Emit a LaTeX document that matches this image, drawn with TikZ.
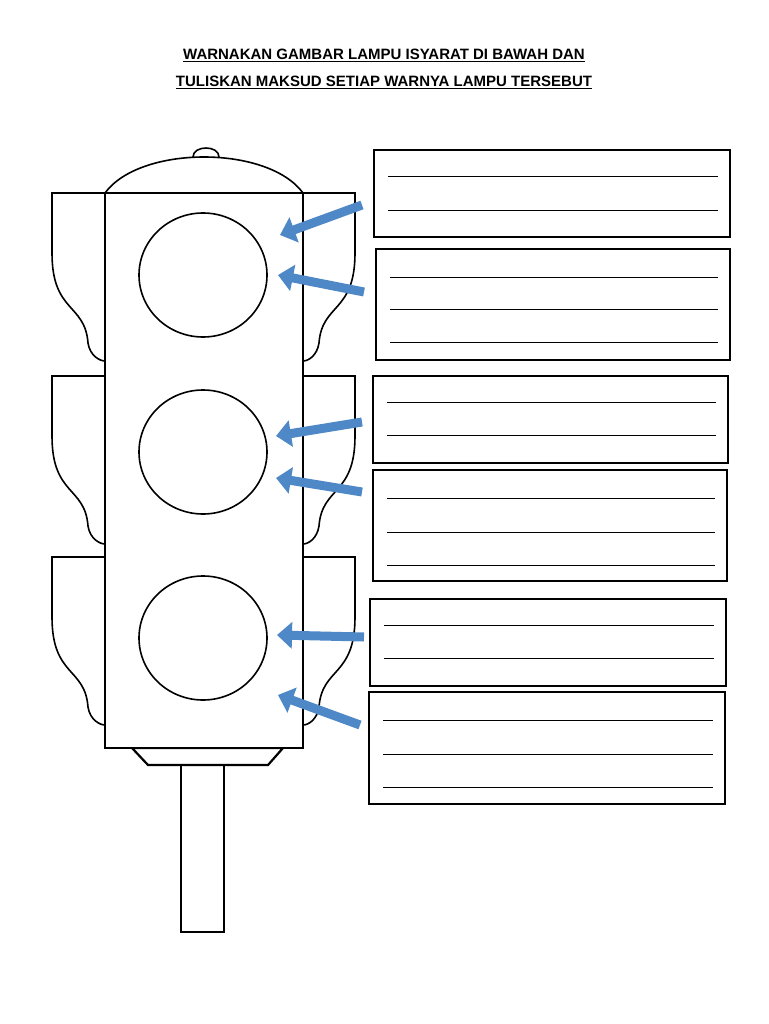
\documentclass[tikz,border=0pt]{standalone}
\usepackage{fontspec}
\setmainfont{Liberation Sans}
\usetikzlibrary{arrows.meta,shapes.geometric}
\definecolor{arrblue}{HTML}{4F88C6}
\tikzset{
 outl/.style={draw=black,line width=1.6pt,fill=white},
 wbox/.style={draw=black,line width=2.4pt},
 wline/.style={draw=black,line width=0.9pt},
 barrow/.style={draw=arrblue,line width=9pt,-{Triangle[length=15pt 0,width=26pt 0]}},
 lamp/.style={draw=black,line width=1.6pt,fill=white},
}
\begin{document}
\begin{tikzpicture}[x=1pt,y=-1pt]
\useasboundingbox (0,0) rectangle (768,1024);
\node[font=\bfseries\fontsize{15}{18}\selectfont] (t1) at (384,55) {\underline{WARNAKAN GAMBAR LAMPU ISYARAT DI BAWAH DAN}};
\node[font=\bfseries\fontsize{15}{18}\selectfont] (t2) at (384,82) {\underline{TULISKAN MAKSUD SETIAP WARNYA LAMPU TERSEBUT}};
% pole and base
\draw[outl] (181,765) rectangle (224,932);
\draw[outl,line width=2.2pt] (132,748) -- (148,765) -- (268,765) -- (283,748) -- cycle;
% knob and dome
\draw[outl] (193,157) .. controls (193,145) and (219,145) .. (219,157);
\draw[outl] (105,193) .. controls (140,145) and (268,145) .. (303,193) -- cycle;
% wings
\foreach \y in {193,376,557}{
 \draw[outl] (105,\y) -- (52,\y) -- (52,\y+60) .. controls (52,\y+120) and (85,\y+110) .. (88,\y+150) .. controls (90,\y+163) and (100,\y+168) .. (105,\y+168);
 \draw[outl] (303,\y) -- (355,\y) -- (355,\y+60) .. controls (355,\y+120) and (322,\y+110) .. (319,\y+150) .. controls (317,\y+163) and (308,\y+168) .. (303,\y+168);
}
% body
\draw[outl,line width=2pt] (105,193) rectangle (303,748);
% lamps
\node[lamp,ellipse,minimum width=128pt,minimum height=124pt,inner sep=0] (l1) at (203,275) {};
\node[lamp,ellipse,minimum width=128pt,minimum height=124pt,inner sep=0] (l2) at (203,452) {};
\node[lamp,ellipse,minimum width=128pt,minimum height=124pt,inner sep=0] (l3) at (203,638) {};
% boxes
\foreach \n/\xa/\ya/\xb/\yb/\ls in {b1/374/150/730/237/{176,210},b2/376/249/730/360/{277,309,342},b3/373/376/728/463/{402,435},b4/373/470/727/581/{498,532,565},b5/370/599/726/686/{625,658},b6/369/692/725/804/{720,754,787}}{
 \draw[wbox] (\xa,\ya) rectangle (\xb,\yb);
 \foreach \l in \ls { \draw[wline] (\xa+14,\l) -- (\xb-12,\l); }
}
% arrows
\foreach \i/\ax/\ay/\bx/\by in {1/362/205/280/235,2/364/292/278/275,3/362/422/276/436,4/362/492/276/478,5/364/637/277/635,6/360/725/278/695}{
 \coordinate (s\i) at (\ax,\ay);
 \coordinate (e\i) at (\bx,\by);
 \draw[barrow] (s\i) -- (e\i);
}
\end{tikzpicture}
\end{document}
